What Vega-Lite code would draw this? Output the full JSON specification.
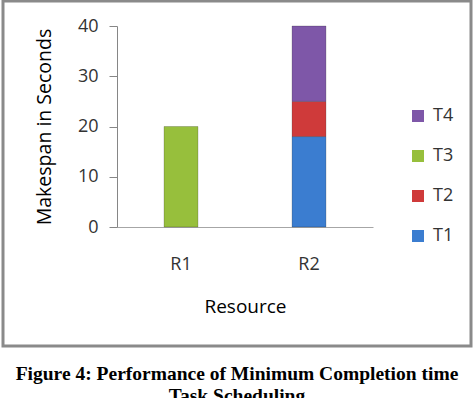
{
  "$schema": "https://vega.github.io/schema/vega-lite/v6.json",
  "autosize": "none",
  "width": 468,
  "height": 345,
  "padding": {"left": 3, "top": 1, "right": 3, "bottom": 52},
  "background": "white",
  "data": {"values": [
    {"resource": "R1", "task": "T3", "value": 20},
    {"resource": "R2", "task": "T1", "value": 18},
    {"resource": "R2", "task": "T2", "value": 7},
    {"resource": "R2", "task": "T4", "value": 15}
  ]},
  "title": {
    "text": ["Figure 4: Performance of Minimum Completion time", "Task Scheduling"],
    "orient": "bottom",
    "anchor": "middle",
    "font": "Liberation Serif",
    "fontSize": 19.5,
    "fontWeight": "bold",
    "color": "#000000",
    "lineHeight": 22,
    "offset": 19
  },
  "mark": {"type": "bar", "stroke": {"expr": "'#00000033'"}, "strokeWidth": 1},
  "encoding": {
    "x": {
      "field": "resource", "type": "nominal",
      "scale": {"range": [114, 370], "paddingInner": 0.735, "paddingOuter": 0.3675},
      "axis": {
        "title": "Resource", "labelAngle": 0, "ticks": false,
        "offset": -119, "labelPadding": 28, "titlePadding": 24,
        "domainColor": "#a6a6a6", "labelColor": "#333333", "titleColor": "#000000",
        "labelFont": "Open Sans", "titleFont": "Open Sans",
        "labelFontSize": 18, "titleFontSize": 19, "titleFontWeight": "normal"
      }
    },
    "y": {
      "field": "value", "type": "quantitative", "stack": "zero",
      "scale": {"domain": [0, 40], "range": [226, 25]},
      "axis": {
        "title": "Makespan in Seconds", "values": [0, 10, 20, 30, 40],
        "grid": false, "offset": -114, "tickSize": 8, "labelPadding": 11,
        "titlePadding": 23,
        "domainColor": "#868686", "tickColor": "#868686",
        "labelColor": "#333333", "titleColor": "#000000",
        "labelFont": "Open Sans", "titleFont": "Open Sans",
        "labelFontSize": 18, "titleFontSize": 19.5, "titleFontWeight": "normal"
      }
    },
    "color": {
      "field": "task", "type": "nominal",
      "scale": {"domain": ["T4", "T3", "T2", "T1"], "range": ["#7e57a8", "#97bf3c", "#cf3a3a", "#3b7dd0"]},
      "legend": {
        "title": null, "orient": "none", "legendX": 406, "legendY": 106,
        "symbolType": "square", "symbolSize": 144, "symbolStrokeWidth": 0,
        "labelFont": "Open Sans", "labelFontSize": 18, "labelColor": "#333333",
        "rowPadding": 22, "labelOffset": 6
      }
    },
    "order": {"field": "task", "sort": "ascending"}
  },
  "config": {
    "view": {"stroke": "#8a8a8a", "strokeWidth": 3}
  }
}
